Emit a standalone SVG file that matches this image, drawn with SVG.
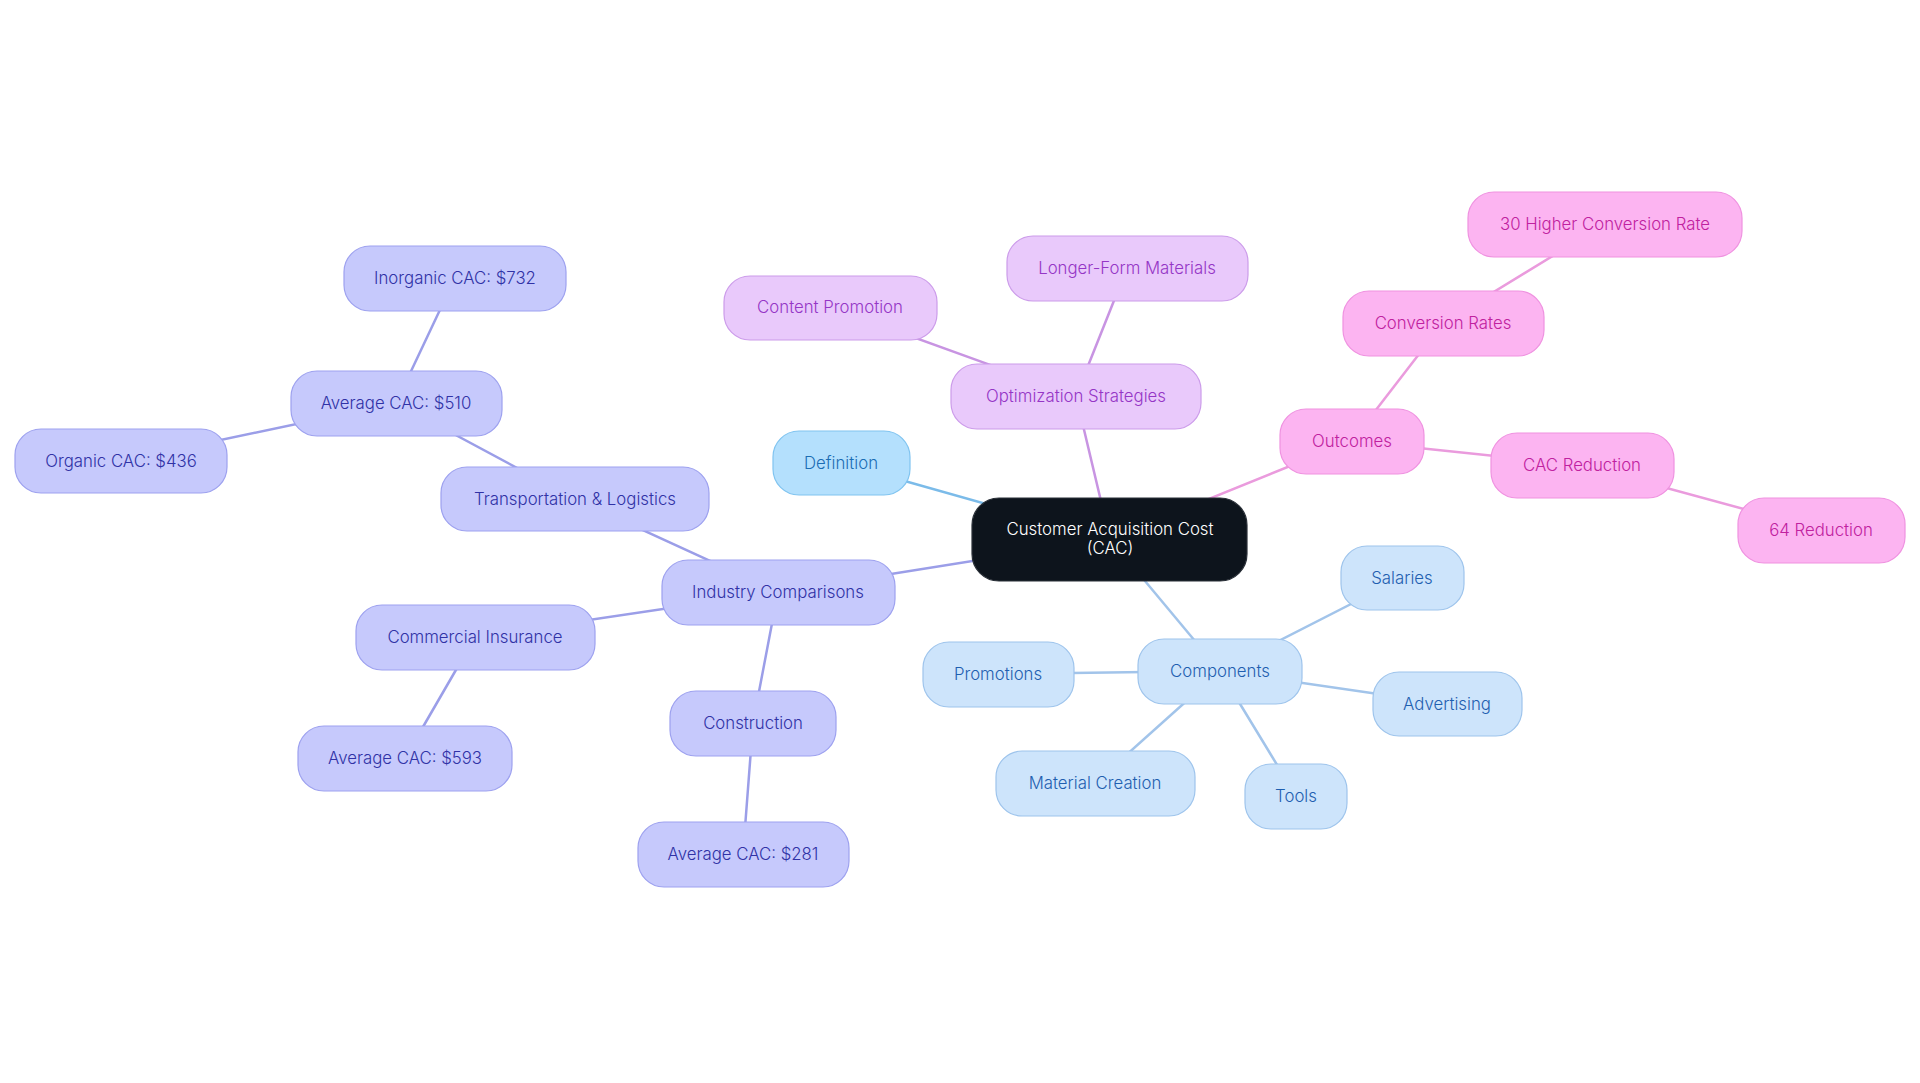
<svg xmlns="http://www.w3.org/2000/svg" width="1920" height="1083" viewBox="0 0 1920 1083">
<style>
text{font-family:Inter,"Noto Sans","Liberation Sans",sans-serif;font-size:16.8px;font-weight:300;text-anchor:middle}
.n rect{stroke-width:1.2}
.root rect{fill:#0d141c;stroke:#2a3038}
.root text{fill:#ffffff}
.def rect{fill:#b4e0fd;stroke:#80c4f0}
.def text{fill:#1b6db4}
.cmp rect{fill:#cde4fb;stroke:#9ec4ec}
.cmp text{fill:#1f5fb0}
.ind rect{fill:#c6c9fc;stroke:#9da1ef}
.ind text{fill:#3032a6}
.opt rect{fill:#e9c9fb;stroke:#cc9cea}
.opt text{fill:#9536c6}
.out rect{fill:#fcb4f1;stroke:#ef92e0}
.out text{fill:#c0219f}
.e{stroke-width:2.5;fill:none;stroke-linecap:round}
.e-def{stroke:#7bbbe9}
.e-cmp{stroke:#a2c4ea}
.e-ind{stroke:#9b9ee8}
.e-opt{stroke:#c894e2}
.e-out{stroke:#ea9bdd}
</style>
<rect width="1920" height="1083" fill="#ffffff"/>
<g id="connectors">
<line class="e e-def" x1="1110" y1="539" x2="841" y2="463"/>
<line class="e e-opt" x1="1110" y1="539" x2="1076" y2="396"/>
<line class="e e-opt" x1="1076" y1="396" x2="830" y2="307"/>
<line class="e e-opt" x1="1076" y1="396" x2="1127" y2="268"/>
<line class="e e-out" x1="1110" y1="539" x2="1352" y2="441"/>
<line class="e e-out" x1="1352" y1="441" x2="1443" y2="323"/>
<line class="e e-out" x1="1443" y1="323" x2="1605" y2="224"/>
<line class="e e-out" x1="1352" y1="441" x2="1582" y2="465"/>
<line class="e e-out" x1="1582" y1="465" x2="1821" y2="530"/>
<line class="e e-cmp" x1="1110" y1="539" x2="1220" y2="671"/>
<line class="e e-cmp" x1="1220" y1="671" x2="1402" y2="578"/>
<line class="e e-cmp" x1="1220" y1="671" x2="998" y2="674"/>
<line class="e e-cmp" x1="1220" y1="671" x2="1447" y2="704"/>
<line class="e e-cmp" x1="1220" y1="671" x2="1095" y2="783"/>
<line class="e e-cmp" x1="1220" y1="671" x2="1296" y2="796"/>
<line class="e e-ind" x1="1110" y1="539" x2="778" y2="592"/>
<line class="e e-ind" x1="778" y1="592" x2="575" y2="499"/>
<line class="e e-ind" x1="575" y1="499" x2="396" y2="403"/>
<line class="e e-ind" x1="396" y1="403" x2="455" y2="278"/>
<line class="e e-ind" x1="396" y1="403" x2="121" y2="461"/>
<line class="e e-ind" x1="778" y1="592" x2="475" y2="637"/>
<line class="e e-ind" x1="475" y1="637" x2="405" y2="758"/>
<line class="e e-ind" x1="778" y1="592" x2="753" y2="723"/>
<line class="e e-ind" x1="753" y1="723" x2="743" y2="854"/>
</g>
<g id="root" class="n root"><rect x="972" y="498" width="275" height="83" rx="27"/><text x="1110" y="535">Customer Acquisition Cost</text><text x="1110" y="554">(CAC)</text></g>
<g id="definition" class="n def"><rect x="773" y="431" width="137" height="64" rx="26"/><text x="841" y="469">Definition</text></g>
<g id="optimization" class="n opt"><rect x="951" y="364" width="250" height="65" rx="26"/><text x="1076" y="402">Optimization Strategies</text></g>
<g id="content-promotion" class="n opt"><rect x="724" y="276" width="213" height="64" rx="26"/><text x="830" y="313">Content Promotion</text></g>
<g id="longer-form" class="n opt"><rect x="1007" y="236" width="241" height="65" rx="26"/><text x="1127" y="274">Longer-Form Materials</text></g>
<g id="outcomes" class="n out"><rect x="1280" y="409" width="144" height="65" rx="26"/><text x="1352" y="447">Outcomes</text></g>
<g id="conversion-rates" class="n out"><rect x="1343" y="291" width="201" height="65" rx="26"/><text x="1443" y="329">Conversion Rates</text></g>
<g id="higher-conversion" class="n out"><rect x="1468" y="192" width="274" height="65" rx="26"/><text x="1605" y="230">30 Higher Conversion Rate</text></g>
<g id="cac-reduction" class="n out"><rect x="1491" y="433" width="183" height="65" rx="26"/><text x="1582" y="471">CAC Reduction</text></g>
<g id="reduction-64" class="n out"><rect x="1738" y="498" width="167" height="65" rx="26"/><text x="1821" y="536">64 Reduction</text></g>
<g id="components" class="n cmp"><rect x="1138" y="639" width="164" height="65" rx="26"/><text x="1220" y="677">Components</text></g>
<g id="salaries" class="n cmp"><rect x="1341" y="546" width="123" height="64" rx="26"/><text x="1402" y="584">Salaries</text></g>
<g id="promotions" class="n cmp"><rect x="923" y="642" width="151" height="65" rx="26"/><text x="998" y="680">Promotions</text></g>
<g id="advertising" class="n cmp"><rect x="1373" y="672" width="149" height="64" rx="26"/><text x="1447" y="710">Advertising</text></g>
<g id="material-creation" class="n cmp"><rect x="996" y="751" width="199" height="65" rx="26"/><text x="1095" y="789">Material Creation</text></g>
<g id="tools" class="n cmp"><rect x="1245" y="764" width="102" height="65" rx="26"/><text x="1296" y="802">Tools</text></g>
<g id="industry" class="n ind"><rect x="662" y="560" width="233" height="65" rx="26"/><text x="778" y="598">Industry Comparisons</text></g>
<g id="transportation" class="n ind"><rect x="441" y="467" width="268" height="64" rx="26"/><text x="575" y="505">Transportation &amp; Logistics</text></g>
<g id="avg-510" class="n ind"><rect x="291" y="371" width="211" height="65" rx="26"/><text x="396" y="409">Average CAC: $510</text></g>
<g id="inorganic" class="n ind"><rect x="344" y="246" width="222" height="65" rx="26"/><text x="455" y="284">Inorganic CAC: $732</text></g>
<g id="organic" class="n ind"><rect x="15" y="429" width="212" height="64" rx="26"/><text x="121" y="467">Organic CAC: $436</text></g>
<g id="commercial" class="n ind"><rect x="356" y="605" width="239" height="65" rx="26"/><text x="475" y="643">Commercial Insurance</text></g>
<g id="avg-593" class="n ind"><rect x="298" y="726" width="214" height="65" rx="26"/><text x="405" y="764">Average CAC: $593</text></g>
<g id="construction" class="n ind"><rect x="670" y="691" width="166" height="65" rx="26"/><text x="753" y="729">Construction</text></g>
<g id="avg-281" class="n ind"><rect x="638" y="822" width="211" height="65" rx="26"/><text x="743" y="860">Average CAC: $281</text></g>
</svg>
